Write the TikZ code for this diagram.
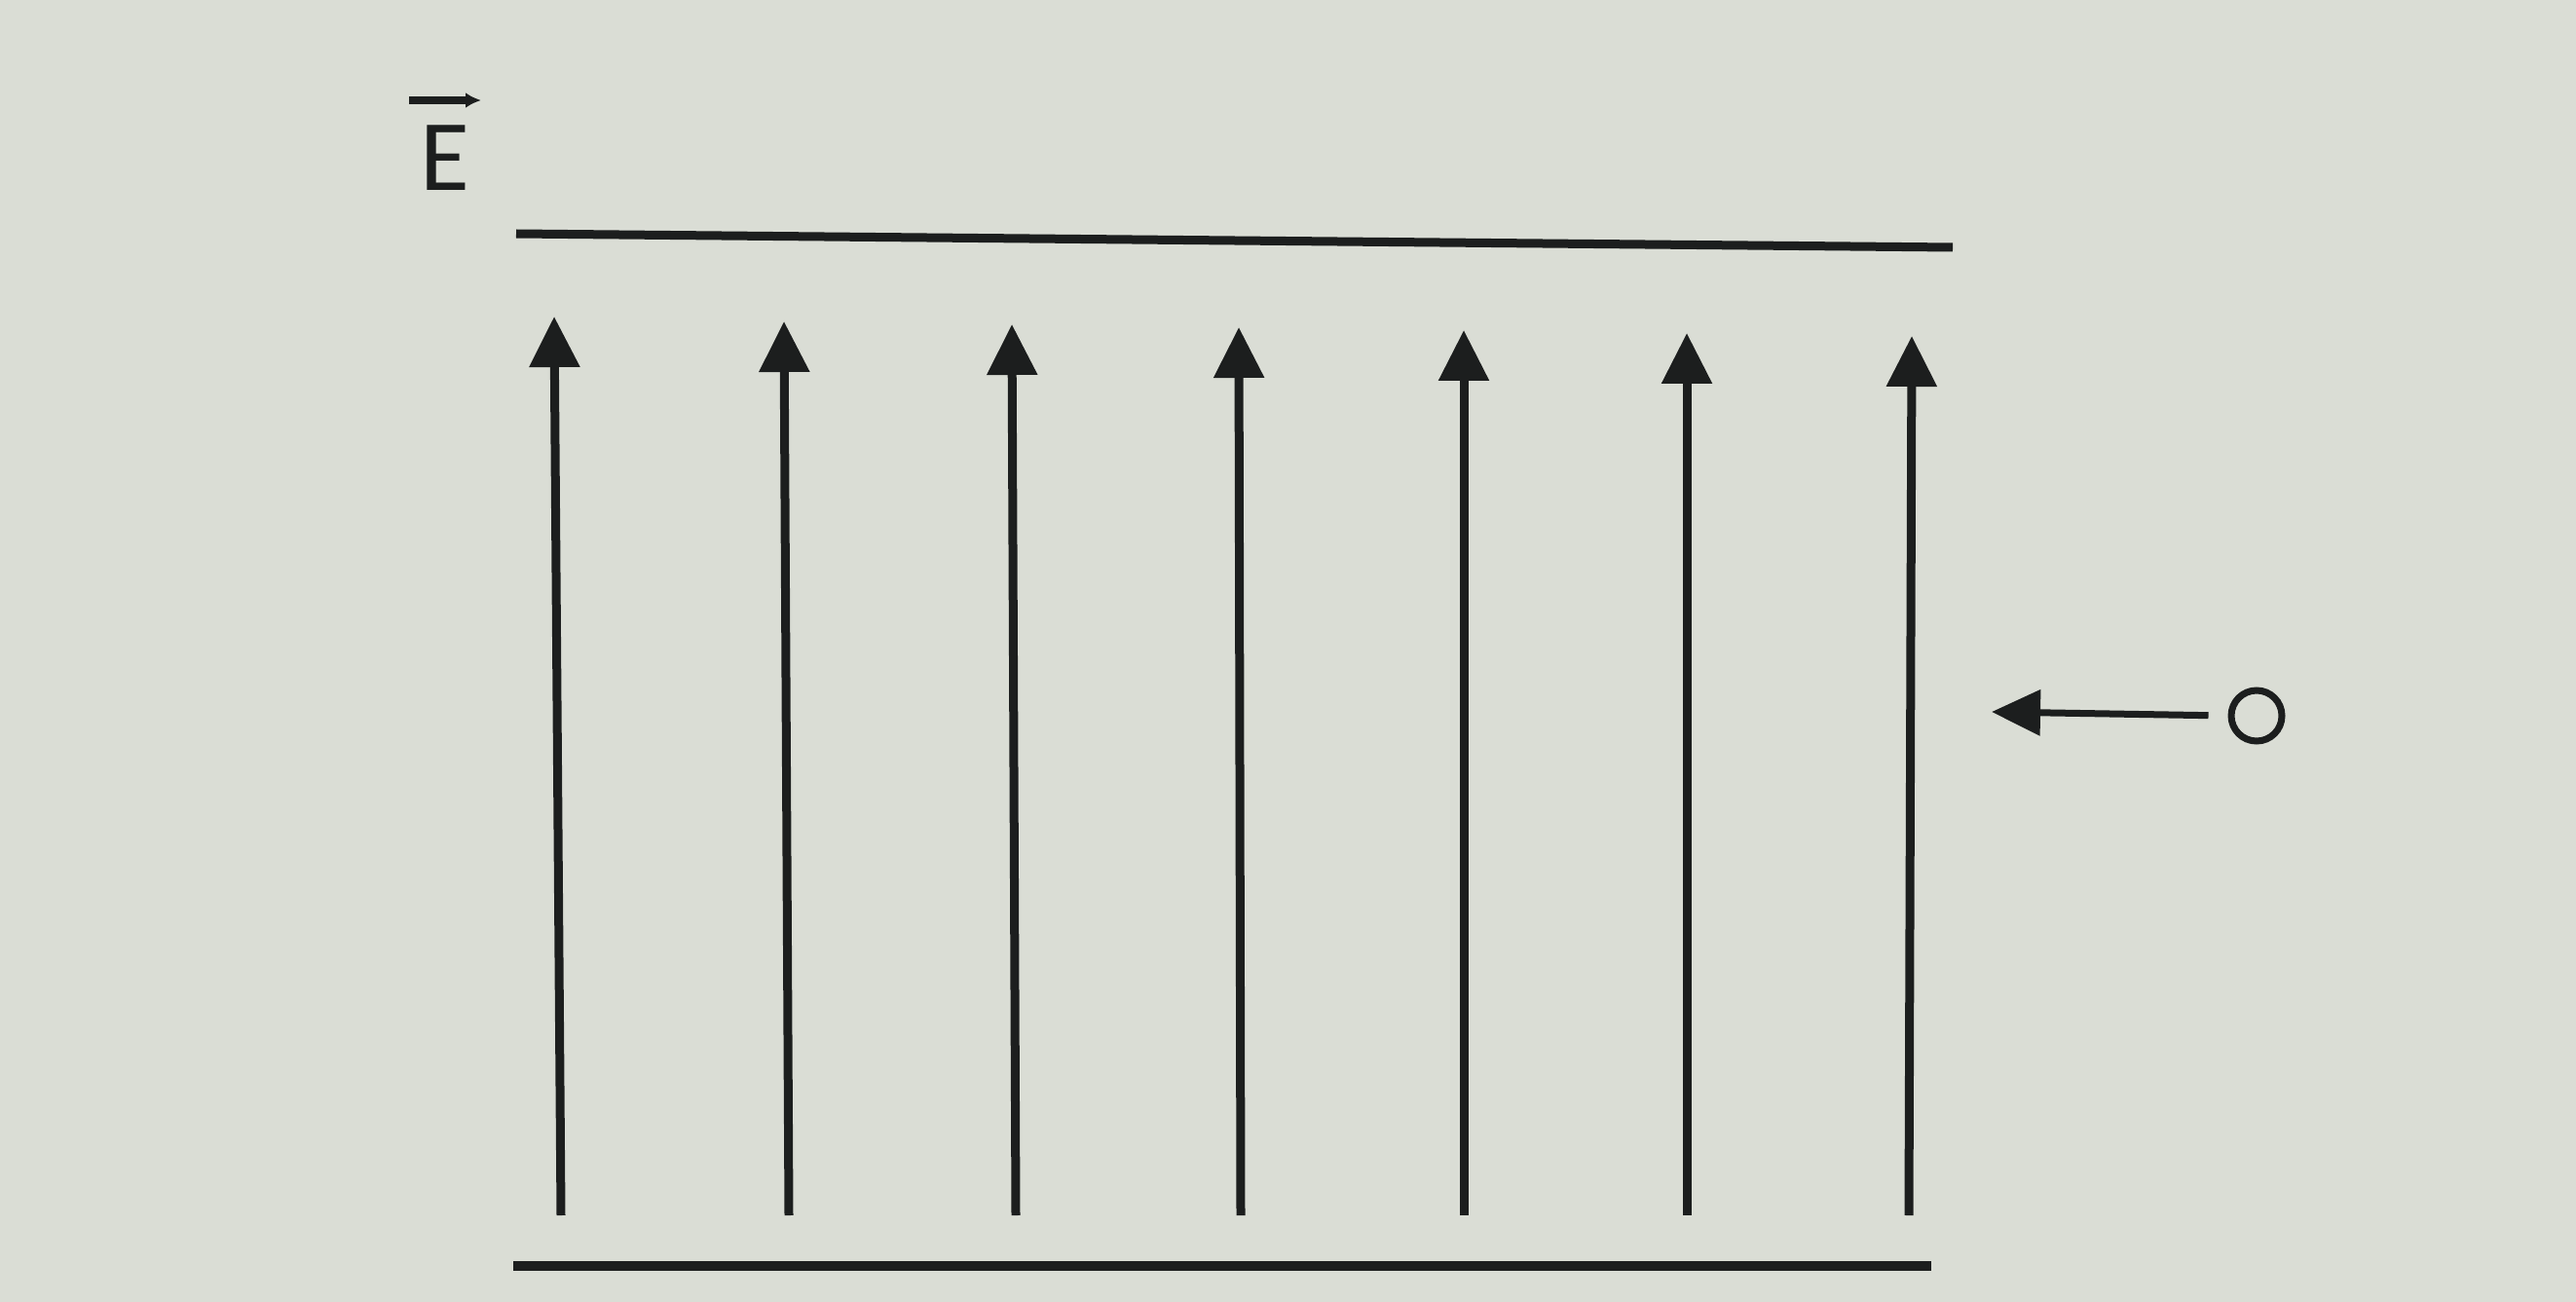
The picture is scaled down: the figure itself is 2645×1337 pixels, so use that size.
\documentclass[tikz,border=0pt]{standalone}
\usepackage{fontspec}
\setmainfont{Carlito}
\usetikzlibrary{arrows.meta}
\definecolor{bgc}{RGB}{218,221,213}
\definecolor{ink}{RGB}{28,30,30}
\tikzset{
  plate/.style={draw=ink, line width=9pt},
  field/.style={draw=ink, line width=9pt, -{Triangle[width=50pt,length=52pt]}},
  small/.style={draw=ink, line width=7pt, -{Triangle[width=46pt,length=50pt]}},
}
\begin{document}
\begin{tikzpicture}[x=1pt,y=-1pt]
\fill[bgc] (0,0) rectangle (2645,1337);
\useasboundingbox (0,0) rectangle (2645,1337);
% plates
\coordinate (tl) at (530,240);
\coordinate (tr) at (2005,254);
\coordinate (bl) at (527,1300);
\coordinate (br) at (1983,1300);
\draw[plate] (tl) -- (tr);
\draw[plate, line width=10pt] (bl) -- (br);
% field lines
\foreach \i/\xb/\xt/\yt in {1/576/569/325, 2/810/805/330, 3/1043/1039/333, 4/1274/1272/336, 5/1503/1503/339, 6/1732/1732/342, 7/1960/1963/345}{
  \coordinate (b\i) at (\xb,1248);
  \coordinate (t\i) at (\xt,\yt);
  \draw[field] (b\i) -- (t\i);
}
% label
\node[inner sep=0pt, text=ink, font=\fontsize{104}{104}\selectfont] (E) at (457,162) {E};
\coordinate (ea) at (420,103);
\coordinate (eb) at (494,103);
\draw[ink, line width=8pt, -{Latex[length=16pt,width=16pt]}] (ea) -- (eb);
% particle
\node[circle, draw=ink, line width=7pt, minimum size=52pt, inner sep=0pt] (p) at (2317,735) {};
\coordinate (tip) at (2045,731);
\draw[small, shorten <=20pt] (p.west) -- (tip);
\end{tikzpicture}
\end{document}
